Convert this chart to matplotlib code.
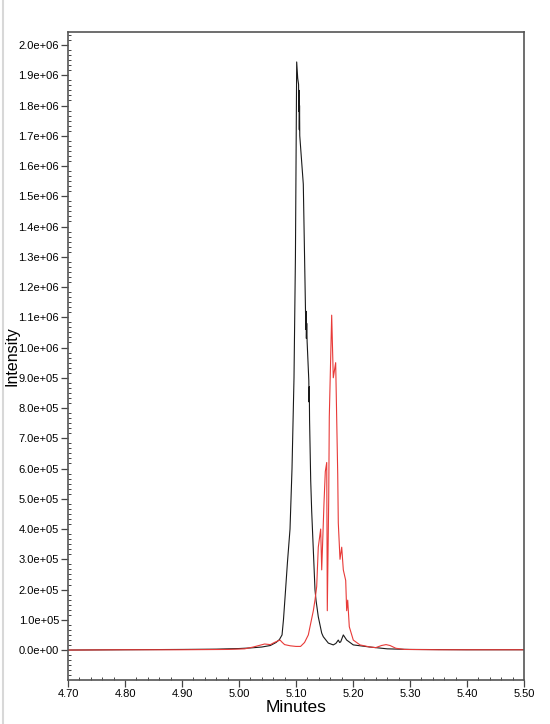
import numpy as np
from matplotlib import pyplot as plt
from matplotlib.ticker import MultipleLocator, AutoMinorLocator, FuncFormatter
from matplotlib.lines import Line2D

# chromatogram traces (time in minutes, intensity in units of 1e5)
black_t = [4.70, 4.80, 4.90, 4.96, 5.00, 5.02, 5.04, 5.055, 5.065, 5.071, 5.0755, 5.078,
           5.081, 5.085, 5.0895, 5.0930, 5.0965, 5.0990, 5.1012, 5.103, 5.1045, 5.1050,
           5.1054, 5.1058, 5.1062, 5.1066, 5.1128, 5.1165, 5.1172, 5.1176, 5.1182, 5.1188,
           5.1195, 5.1225, 5.1229, 5.1233, 5.1238, 5.1258, 5.1275, 5.1333, 5.1351, 5.1391,
           5.1451, 5.1479, 5.1567, 5.1654, 5.170, 5.1742, 5.1765, 5.1784, 5.1830, 5.1889,
           5.2005, 5.2298, 5.26, 5.30, 5.40, 5.50]
black_i = [0.0, 0.01, 0.02, 0.03, 0.05, 0.07, 0.1, 0.15, 0.25, 0.35, 0.5, 1.0,
           1.8, 2.9, 4.0, 6.0, 9.0, 13.0, 19.44, 18.9, 18.7, 17.8,
           18.5, 17.2, 18.0, 17.0, 15.4, 11.4, 10.6, 11.2, 10.3, 10.8,
           10.2, 8.9, 8.2, 8.7, 7.6, 5.6, 4.6, 2.0, 1.65, 1.1,
           0.56, 0.44, 0.23, 0.17, 0.22, 0.33, 0.25, 0.27, 0.5, 0.33,
           0.17, 0.1, 0.04, 0.02, 0.01, 0.01]

red_t = [4.70, 4.80, 4.90, 4.98, 5.01, 5.025, 5.035, 5.045, 5.055, 5.062, 5.068, 5.072,
         5.076, 5.08, 5.09, 5.10, 5.108, 5.115, 5.1216, 5.1304, 5.1333, 5.1363, 5.1391,
         5.1433, 5.1451, 5.1491, 5.1514, 5.1539, 5.1549, 5.1574, 5.1584, 5.1626, 5.1654,
         5.1696, 5.1732, 5.1742, 5.1772, 5.1802, 5.1830, 5.1872, 5.1889, 5.1907, 5.1935,
         5.2005, 5.2123, 5.2298, 5.24, 5.25, 5.258, 5.265, 5.275, 5.29, 5.35, 5.50]
red_i = [0.0, 0.01, 0.01, 0.02, 0.04, 0.1, 0.15, 0.2, 0.18, 0.25, 0.3, 0.33,
         0.25, 0.18, 0.14, 0.12, 0.12, 0.25, 0.5, 1.3, 1.65, 2.1, 3.4,
         4.0, 2.65, 4.85, 5.9, 6.2, 1.3, 5.0, 7.7, 11.07, 9.0,
         9.5, 5.8, 4.2, 3.0, 3.4, 2.65, 2.3, 1.3, 1.65, 0.77,
         0.33, 0.17, 0.1, 0.08, 0.15, 0.18, 0.15, 0.06, 0.02, 0.01, 0.01]

scale = 1e5

fig = plt.figure(figsize=(5.5, 7.24), dpi=100)
ax = fig.add_axes([68/550, 44/724, 456/550, 648/724])

ax.plot(black_t, np.array(black_i)*scale, color='#1a1a1a', lw=0.8)
ax.plot(red_t, np.array(red_i)*scale, color='#e83a38', lw=0.8)

ax.set_xlim(4.70, 5.50)
ax.set_ylim(-0.99e5, 2.043e6)

ax.xaxis.set_major_locator(MultipleLocator(0.1))
ax.xaxis.set_minor_locator(AutoMinorLocator(5))
ax.xaxis.set_major_formatter(FuncFormatter(lambda v, p: '%.2f' % v))
ax.set_yticks(np.arange(0, 21) * 1e5)
ax.yaxis.set_minor_locator(AutoMinorLocator(6))
ax.yaxis.set_major_formatter(FuncFormatter(lambda v, p: '%.1e' % v))

ax.tick_params(which='major', direction='out', length=5, width=0.9, color='#444444',
               labelsize=8, labelcolor='#000000', pad=1.5)
ax.tick_params(which='minor', direction='in', length=2.5, width=0.7, color='#444444')
for lbl in ax.get_xticklabels() + ax.get_yticklabels():
    lbl.set_family('Liberation Sans')

for s in ax.spines.values():
    s.set_color('#555555')
    s.set_linewidth(1.2)

ax.set_xlabel('Minutes', fontsize=12.5, family='Liberation Sans', va='center')
ax.set_ylabel('Intensity', fontsize=11.5, family='Liberation Sans', va='center')
ax.xaxis.set_label_coords(0.5, -0.042)
ax.yaxis.set_label_coords(-0.123, 0.5)

# light frame line at the left edge of the picture
fig.add_artist(Line2D([2.5/550, 2.5/550], [0, 1], color='#d8d8d8', lw=1.5))

fig.savefig('out.png', dpi=100)
